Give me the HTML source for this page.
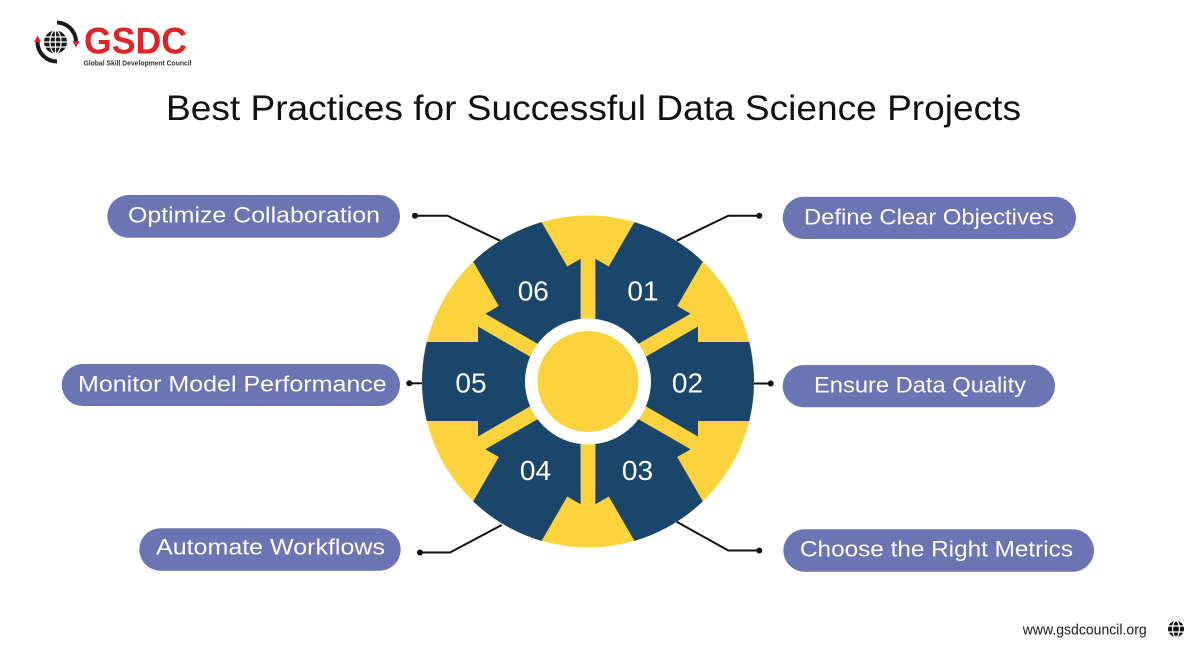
<!DOCTYPE html>
<html>
<head>
<meta charset="utf-8">
<style>
  html, body { margin: 0; padding: 0; background: #ffffff; }
  body { width: 1200px; height: 650px; overflow: hidden; }
  svg { display: block; }
  text { font-family: "Liberation Sans", "DejaVu Sans", sans-serif; }
</style>
</head>
<body>
<svg width="1200" height="650" viewBox="0 0 1200 650" xmlns="http://www.w3.org/2000/svg">
  <rect width="1200" height="650" fill="#ffffff"/>

  <!-- Logo -->
  <g>
    <!-- arcs -->
    <path d="M 57 22.5 A 19.5 19.5 0 0 1 76 41" fill="none" stroke="#1a1a1a" stroke-width="4"/>
    <polygon points="72.5,41 79.5,41 76,47.5" fill="#e32227"/>
    <path d="M 57 61.5 A 19.5 19.5 0 0 1 37.5 42" fill="none" stroke="#1a1a1a" stroke-width="4"/>
    <polygon points="34,42 41,42 37.5,35.5" fill="#e32227"/>
    <!-- globe -->
    <circle cx="55.5" cy="42" r="11.5" fill="#1a1a1a"/>
    <g stroke="#ffffff" stroke-width="1.2" fill="none">
      <line x1="44" y1="37" x2="67" y2="37"/>
      <line x1="44" y1="42" x2="67" y2="42"/>
      <line x1="44" y1="47" x2="67" y2="47"/>
      <line x1="55.5" y1="30.5" x2="55.5" y2="53.5"/>
      <ellipse cx="55.5" cy="42" rx="5.5" ry="11.5"/>
    </g>
    <text x="84" y="53.5" font-size="37" font-weight="bold" fill="#e32227" textLength="103" lengthAdjust="spacingAndGlyphs">GSDC</text>
    <text x="83.5" y="65.5" font-size="7.5" font-weight="bold" fill="#333333" textLength="108" lengthAdjust="spacingAndGlyphs">Global Skill Development Council</text>
  </g>

  <!-- Title -->
  <text x="166" y="120" font-size="35" fill="#111111" textLength="855" lengthAdjust="spacingAndGlyphs">Best Practices for Successful Data Science Projects</text>

  <!-- Connectors -->
  <g stroke="#111111" stroke-width="2" fill="none">
    <polyline points="415,215.7 447.5,215.7 500,240.7"/>
    <polyline points="759.3,215.7 728.3,215.7 676.7,240.7"/>
    <polyline points="409.3,383.3 424,383.3"/>
    <polyline points="770.7,383.5 753,383.5"/>
    <polyline points="420,552.5 450,552.5 501.7,525"/>
    <polyline points="759.3,550.5 728.3,550.5 676.7,521.7"/>
  </g>
  <g fill="#111111">
    <circle cx="415" cy="215.7" r="3"/>
    <circle cx="759.3" cy="215.7" r="3"/>
    <circle cx="409.3" cy="383.3" r="3"/>
    <circle cx="770.7" cy="383.5" r="3"/>
    <circle cx="420" cy="552.5" r="3"/>
    <circle cx="759.3" cy="550.5" r="3"/>
  </g>

  <!-- Central diagram -->
  <defs>
    <clipPath id="circ">
      <circle cx="588" cy="381.5" r="166"/>
    </clipPath>
    <polygon id="arrow" points="15,0 110,-55 110,-39.5 200,-39.5 200,39.5 110,39.5 110,55" fill="#19466a"/>
  </defs>
  <circle cx="588" cy="381.5" r="166" fill="#fcd33c"/>
  <g clip-path="url(#circ)">
    <g transform="translate(588,381.5)">
      <use href="#arrow" transform="rotate(0)"/>
      <use href="#arrow" transform="rotate(-60)"/>
      <use href="#arrow" transform="rotate(-120)"/>
      <use href="#arrow" transform="rotate(180)"/>
      <use href="#arrow" transform="rotate(120)"/>
      <use href="#arrow" transform="rotate(60)"/>
    </g>
  </g>
  <circle cx="588" cy="381.5" r="63" fill="#ffffff"/>
  <circle cx="588" cy="381.5" r="50.5" fill="#fcd33c"/>

  <!-- Numbers -->
  <g font-size="28" fill="#ffffff" text-anchor="middle">
    <text x="643" y="300.5">01</text>
    <text x="687.5" y="392.7">02</text>
    <text x="637.5" y="480">03</text>
    <text x="535.5" y="480">04</text>
    <text x="471" y="392.7">05</text>
    <text x="533.3" y="300.5">06</text>
  </g>

  <!-- Pills -->
  <g fill="#6c74b3">
    <rect x="107.3" y="195" width="292.7" height="42.7" rx="21.3"/>
    <rect x="782.7" y="196.7" width="293.3" height="42.3" rx="21.2"/>
    <rect x="61.7" y="364" width="338.3" height="42" rx="21"/>
    <rect x="782.7" y="365" width="272.3" height="42.3" rx="21.2"/>
    <rect x="139.3" y="528.3" width="261.4" height="42.4" rx="21.2"/>
    <rect x="783.3" y="529.3" width="310.7" height="42.4" rx="21.2"/>
  </g>
  <g font-size="22" fill="#ffffff">
    <text x="128" y="222.3" textLength="252" lengthAdjust="spacingAndGlyphs">Optimize Collaboration</text>
    <text x="804" y="224.3" textLength="250" lengthAdjust="spacingAndGlyphs">Define Clear Objectives</text>
    <text x="78" y="391.7" textLength="308.7" lengthAdjust="spacingAndGlyphs">Monitor Model Performance</text>
    <text x="814" y="392.7" textLength="212" lengthAdjust="spacingAndGlyphs">Ensure Data Quality</text>
    <text x="156" y="554.3" textLength="229" lengthAdjust="spacingAndGlyphs">Automate Workflows</text>
    <text x="800" y="556.7" textLength="273" lengthAdjust="spacingAndGlyphs">Choose the Right Metrics</text>
  </g>

  <!-- Footer -->
  <text x="1022.7" y="634.5" font-size="15" fill="#1a1a1a" textLength="124" lengthAdjust="spacingAndGlyphs">www.gsdcouncil.org</text>
  <circle cx="1176" cy="629" r="8" fill="#111111"/>
  <g stroke="#ffffff" stroke-width="1.3" fill="none">
    <line x1="1168" y1="626" x2="1184" y2="626"/>
    <line x1="1168" y1="632" x2="1184" y2="632"/>
    <ellipse cx="1176" cy="629" rx="3.5" ry="8"/>
  </g>
</svg>
</body>
</html>
